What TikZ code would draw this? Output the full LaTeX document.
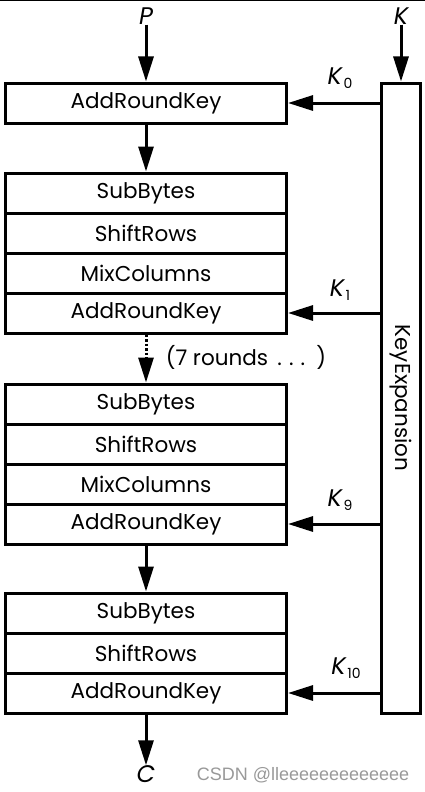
\documentclass[tikz,border=0pt]{standalone}
\usepackage{fontspec}
\setmainfont{Poppins}
\newfontfamily\wmfont{Liberation Sans}
\usetikzlibrary{arrows.meta}
\tikzset{
  stagebox/.style={draw, line width=3pt, minimum width=281pt, minimum height=40pt, inner sep=0pt, font=\fontsize{21.5}{24}\selectfont},
  arr/.style={line width=3pt, -{Triangle[length=25pt,width=15pt]}},
  lbl/.style={inner sep=0pt, font=\fontsize{24}{27}\selectfont\itshape},
  klbl/.style={inner sep=0pt, font=\fontsize{24}{27}\selectfont},
}
\newcommand{\ksub}[1]{{\itshape K}\hspace{1.5pt}\raisebox{-0.3ex}{\fontsize{14}{14}\selectfont #1}}
\begin{document}
\begin{tikzpicture}[x=1pt,y=-1pt]
\useasboundingbox (0,0) rectangle (425,792);
\fill[white] (0,0) rectangle (425,792);
\draw[line width=1.5pt] (0,0.75) -- (425,0.75);
% labels
\node[lbl] (P) at (146,16) {P};
\node[lbl] (K) at (401,16) {K};
\node[lbl] (C) at (146,774) {C};
% initial
\node[stagebox] (a0) at (146,103) {AddRoundKey};
% round 1
\node[stagebox] (r1a) at (146,193) {SubBytes};
\node[stagebox] (r1b) at (146,233) {ShiftRows};
\node[stagebox] (r1c) at (146,273) {MixColumns};
\node[stagebox] (r1d) at (146,313) {AddRoundKey};
% round 9
\node[stagebox] (r9a) at (146,404) {SubBytes};
\node[stagebox] (r9b) at (146,444) {ShiftRows};
\node[stagebox] (r9c) at (146,484) {MixColumns};
\node[stagebox] (r9d) at (146,524) {AddRoundKey};
% final
\node[stagebox] (r10a) at (146,613) {SubBytes};
\node[stagebox] (r10b) at (146,653) {ShiftRows};
\node[stagebox] (r10c) at (146,693) {AddRoundKey};
% key expansion
\node[draw, line width=3pt, minimum width=39pt, minimum height=630pt, inner sep=0pt] (kx) at (400.5,398) {};
\node[rotate=-90, font=\fontsize{21.5}{24}\selectfont] (kxl) at (kx.center) {KeyExpansion};
% arrows
\draw[arr] (P.south) -- (a0.north);
\draw[arr] (K.south) -- (K.south |- kx.north);
\draw[arr] (a0.south) -- (r1a.north);
\draw[arr, dash pattern=on 2.5pt off 2pt] (r1d.south) -- (r9a.north);
\draw[arr] (r9d.south) -- (r10a.north);
\draw[arr] (r10c.south) -- (C.north);
\draw[arr] (kx.west |- a0.east) -- (a0.east);
\draw[arr] (kx.west |- r1d.east) -- (r1d.east);
\draw[arr] (kx.west |- r9d.east) -- (r9d.east);
\draw[arr] (kx.west |- r10c.east) -- (r10c.east);
% key labels
\node[klbl] (k0) at (340,78) {\ksub{0}};
\node[klbl] (k1) at (340,290) {\ksub{1}};
\node[klbl] (k9) at (340,500) {\ksub{9}};
\node[klbl] (k10) at (346,668) {\ksub{10}};
\node[inner sep=0pt, font=\fontsize{21.5}{24}\selectfont] (rounds) at (246,357) {(7 rounds \,.\,\,.\,\,.\, )};
% watermark
\node[inner sep=0pt, text=black!40, font=\wmfont\fontsize{18}{20}\selectfont] (wm) at (303,775) {CSDN @lleeeeeeeeeeeee};
\end{tikzpicture}
\end{document}
